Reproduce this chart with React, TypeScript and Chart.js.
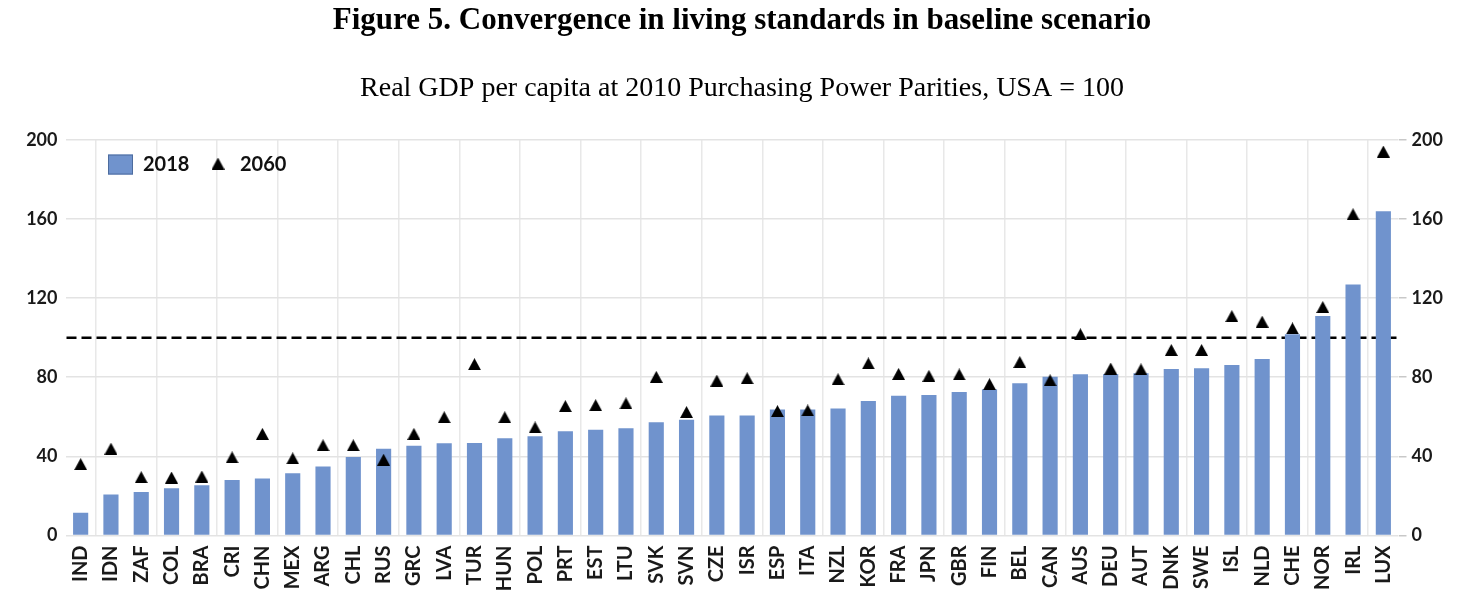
import React, { useEffect, useRef } from 'react';
import { Chart, registerables } from 'chart.js';

Chart.register(...registerables);

const countries = ['IND', 'IDN', 'ZAF', 'COL', 'BRA', 'CRI', 'CHN', 'MEX', 'ARG', 'CHL', 'RUS', 'GRC', 'LVA', 'TUR', 'HUN', 'POL', 'PRT', 'EST', 'LTU', 'SVK', 'SVN', 'CZE', 'ISR', 'ESP', 'ITA', 'NZL', 'KOR', 'FRA', 'JPN', 'GBR', 'FIN', 'BEL', 'CAN', 'AUS', 'DEU', 'AUT', 'DNK', 'SWE', 'ISL', 'NLD', 'CHE', 'NOR', 'IRL', 'LUX'];

const gdp2018 = [11.5, 20.7, 22.0, 23.9, 25.4, 28.1, 28.8, 31.5, 34.9, 39.7, 43.9, 45.4, 46.6, 46.8, 49.2, 50.2, 52.7, 53.4, 54.2, 57.3, 58.5, 60.7, 60.7, 63.7, 63.7, 64.2, 68.0, 70.7, 71.0, 72.5, 73.9, 77.0, 80.3, 81.5, 81.7, 82.0, 84.2, 84.5, 86.2, 89.2, 101.7, 110.9, 126.9, 163.9];

const gdp2060 = [36.1, 43.9, 29.5, 29.3, 29.8, 39.5, 51.4, 39.0, 45.6, 45.6, 38.3, 51.4, 59.8, 86.6, 59.8, 54.6, 65.4, 65.9, 66.8, 80.2, 62.4, 78.3, 79.5, 62.9, 63.2, 79.0, 87.0, 81.7, 80.7, 81.4, 76.5, 87.7, 78.5, 101.7, 84.4, 84.0, 93.8, 93.8, 110.9, 108.1, 104.7, 115.5, 162.4, 194.1];

const seriesLabels = ['2018', '2060'];
const yMin = 0;
const yMax = 200;
const yStep = 40;
const usaLevel = 100;

const titleText = 'Figure 5. Convergence in living standards in baseline scenario';
const subtitleText = 'Real GDP per capita at 2010 Purchasing Power Parities, USA = 100';

const BAR_COLOR = '#7093CD';
const TICK_FONT = { family: 'Lato', size: 18, weight: 'bold' as const };
const XTICK_FONT = { family: 'Lato', size: 20, weight: 'bold' as const };

function makeTriangle(): HTMLCanvasElement {
  const c = document.createElement('canvas');
  c.width = 13;
  c.height = 12;
  const g = c.getContext('2d')!;
  g.fillStyle = '#000';
  g.beginPath();
  g.moveTo(0, 12);
  g.lineTo(6.5, 0);
  g.lineTo(13, 12);
  g.closePath();
  g.fill();
  return c;
}

export default function App() {
  const ref = useRef<HTMLCanvasElement | null>(null);

  useEffect(() => {
    if (!ref.current) return;
    const tri = makeTriangle();

    const refLine = {
      id: 'refLine',
      beforeDatasetsDraw(chart: any) {
        const { ctx, chartArea } = chart;
        const y = chart.scales.y.getPixelForValue(usaLevel);
        ctx.save();
        ctx.strokeStyle = '#000';
        ctx.lineWidth = 2.6;
        ctx.setLineDash([10, 5]);
        ctx.beginPath();
        ctx.moveTo(chartArea.left + 1, y);
        ctx.lineTo(chartArea.right, y);
        ctx.stroke();
        ctx.restore();
      },
    };

    const legendIn = {
      id: 'legendIn',
      afterDraw(chart: any) {
        const { ctx, chartArea } = chart;
        const ds = chart.data.datasets;
        const barDs = ds.find((d: any) => d.type === 'bar');
        const triDs = ds.find((d: any) => d.type === 'line');
        const bx = chartArea.left + 42.5;
        const by = chartArea.top + 14.7;
        ctx.save();
        ctx.fillStyle = BAR_COLOR;
        ctx.fillRect(bx, by, 25, 20);
        ctx.strokeStyle = '#4d6c9e';
        ctx.lineWidth = 1;
        ctx.strokeRect(bx + 0.5, by + 0.5, 24, 19);
        ctx.fillStyle = '#111';
        ctx.font = 'bold 20px Lato';
        ctx.textBaseline = 'middle';
        ctx.textAlign = 'left';
        ctx.fillText(barDs.label, chartArea.left + 77.5, by + 10);
        ctx.drawImage(tri, chartArea.left + 152.5 - 6.5, by + 9 - 6);
        ctx.fillText(triDs.label, chartArea.left + 174.5, by + 10);
        ctx.restore();
      },
    };

    const chart = new Chart(ref.current, {
      type: 'bar',
      data: {
        labels: countries,
        datasets: [
          {
            type: 'line' as const,
            label: seriesLabels[1],
            data: gdp2060,
            showLine: false,
            pointStyle: tri as any,
            pointRadius: 6,
            pointHoverRadius: 6,
            borderColor: '#000',
            backgroundColor: '#000',
            order: 0,
            yAxisID: 'y',
          },
          {
            type: 'bar' as const,
            label: seriesLabels[0],
            data: gdp2018,
            backgroundColor: BAR_COLOR,
            borderWidth: 0,
            categoryPercentage: 1,
            barPercentage: 0.5,
            order: 1,
            yAxisID: 'y',
          },
        ] as any,
      },
      options: {
        animation: false,
        responsive: false,
        maintainAspectRatio: false,
        layout: { padding: 0 },
        plugins: {
          legend: { display: false },
          tooltip: { enabled: false },
          title: {
            display: true,
            text: titleText,
            color: '#000',
            font: { family: 'Liberation Serif', size: 31, weight: 'bold', lineHeight: 0.85 },
            padding: { top: 0, bottom: 40.5 },
          },
          subtitle: {
            display: true,
            text: subtitleText,
            color: '#000',
            font: { family: 'Liberation Serif', size: 28, weight: 'normal', lineHeight: 1 },
            padding: { top: 0, bottom: 37 },
          },
        },
        scales: {
          x: {
            type: 'category',
            offset: true,
            border: { display: false },
            grid: {
              offset: true,
              drawTicks: false,
              lineWidth: 1.5,
              color: (c: any) => (c.index % 2 === 1 ? '#e8e8e8' : 'rgba(0,0,0,0)'),
            },
            ticks: {
              font: XTICK_FONT,
              color: '#1a1a1a',
              autoSkip: false,
              minRotation: 90,
              maxRotation: 90,
              padding: 10,
            },
            afterFit(s: any) {
              s.height = 62.5;
            },
          },
          y: {
            position: 'left',
            min: yMin,
            max: yMax,
            border: { display: false },
            grid: { color: '#e3e3e3', lineWidth: 1.5, drawTicks: false },
            ticks: { stepSize: yStep, font: TICK_FONT, color: '#1a1a1a', padding: 8 },
            afterFit(s: any) {
              s.width = 57.5;
            },
          },
          y2: {
            position: 'right',
            min: yMin,
            max: yMax,
            border: { display: false },
            grid: { drawOnChartArea: false, drawTicks: true, tickLength: 8, color: '#c8c8c8', lineWidth: 1.5 },
            ticks: { stepSize: yStep, font: TICK_FONT, color: '#1a1a1a', padding: 5 },
            afterFit(s: any) {
              s.width = 77.5;
            },
          },
        },
      },
      plugins: [refLine, legendIn],
    });

    return () => chart.destroy();
  }, []);

  return (
    <div style={{ width: 1468, height: 590 }}>
      <canvas ref={ref} width={1468} height={590} style={{ display: 'block' }} />
    </div>
  );
}
